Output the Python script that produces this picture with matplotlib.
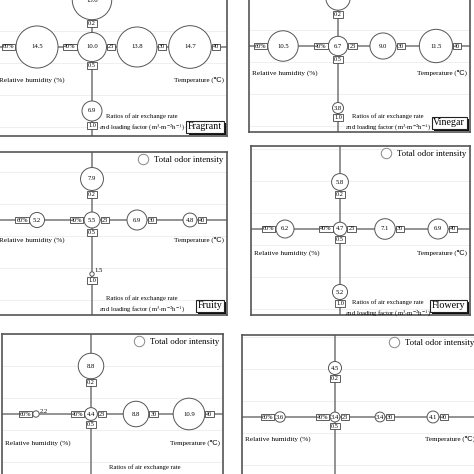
import matplotlib.pyplot as plt
from matplotlib.patches import Circle
from matplotlib.lines import Line2D
import matplotlib.patheffects as pe

plt.rcParams['font.family'] = ['Liberation Serif', 'DejaVu Serif', 'DejaVu Sans']
plt.rcParams['mathtext.fontset'] = 'stix'

# total odor intensity per odor type
odor_names = ['Fragrant', 'Vinegar', 'Fruity', 'Flowery', '', '']
center_vals = [10.0, 6.7, 5.5, 4.7, 4.4, 3.4]      # 40%, 23 C, ratio 0.5
rh60_vals = [14.5, 10.5, 5.2, 6.2, 2.2, 3.6]
t30_vals = [13.8, 9.0, 6.9, 7.1, 8.8, 3.4]
t40_vals = [14.7, 11.5, 4.8, 6.9, 10.9, 4.1]
ratio02_vals = [13.6, 8.4, 7.9, 5.8, 8.8, 4.5]     # first two are cut off, estimated
ratio10_vals = [6.9, 3.8, 1.5, 5.2, None, None]

rh_labels = ['60%', '40%']
temp_labels = ['23', '30', '40']
ratio_labels = ['0.2', '0.5', '1.0']

W = H = 474
K = 1.45  # circle radius in px per unit of intensity
# panel geometry in pixels: frame (left, top, right, bottom), cross point
panels = [
    dict(frame=(-4, -60, 227, 136), cross=(92, 47), up=47, down=64, lab=33, ratio=(50, 70), legend=False),
    dict(frame=(249, -60, 470, 132), cross=(338, 46), up=48, down=62, lab=27, ratio=(50, 71), legend=False),
    dict(frame=(-4, 152, 227, 315), cross=(92, 220), up=41, down=54, lab=20, ratio=(50, 79), legend=True),
    dict(frame=(251, 146, 470, 315), cross=(340, 229), up=47, down=63, lab=24, ratio=(48, 74), legend=True),
    dict(frame=(2, 334, 223, 540), cross=(91, 414), up=48, down=63, lab=29, ratio=(54, 54), legend=True),
    dict(frame=(242, 335, 478, 540), cross=(335, 417), up=49, down=66, lab=22, ratio=(54, 64), legend=True),
]
arm_x = {'rh60': -55, 't30': 45, 't40': 98}

edge = '#555555'
fig = plt.figure(figsize=(W / 100, H / 100), dpi=100)


def circle(ax, x, y, v):
    rad = K * v
    ax.add_patch(Circle((x, y), rad, fc='white', ec=edge, lw=0.7, zorder=3))
    if v >= 3:
        ax.text(x, y, f'{v:.1f}', ha='center', va='center', fontsize=4.8, zorder=4)
    else:
        ax.text(x + rad + 0.5, y + 0.5, f'{v:.1f}', ha='left', va='bottom', fontsize=4.8, zorder=4)
    return rad


def box(ax, x, y, s, ha, va):
    ax.text(x, y, s, ha=ha, va=va, fontsize=4.5, zorder=5,
            bbox=dict(boxstyle='square,pad=0.15', fc='white', ec='#444444', lw=0.6))


for i, p in enumerate(panels):
    l, t, r, b = p['frame']
    cx, cy = p['cross']
    ax = fig.add_axes([l / W, 1 - b / H, (r - l) / W, (b - t) / H])
    ax.set_xticks([])
    ax.set_yticks([-112, -80, -48, -16, 16, 48, 80, 112])
    ax.set_xlim(l - cx, r - cx)
    ax.set_ylim(cy - b, cy - t)
    ax.tick_params(length=0, labelleft=False)
    ax.grid(axis='y', color='#ececec', lw=0.6)
    ax.set_axisbelow(True)
    for s in ax.spines.values():
        s.set_color(edge)
        s.set_linewidth(1.2)

    ax.axhline(0, color='#808080', lw=1.2, zorder=1)
    ax.axvline(0, color='#808080', lw=1.2, zorder=1)

    g = 1.6
    rc = circle(ax, 0, 0, center_vals[i])
    box(ax, -rc - g, 0, rh_labels[1], 'right', 'center')
    box(ax, rc + g, 0, temp_labels[0], 'left', 'center')
    box(ax, 0, -rc - g, ratio_labels[1], 'center', 'top')

    rr = circle(ax, arm_x['rh60'], 0, rh60_vals[i])
    box(ax, arm_x['rh60'] - rr - g, 0, rh_labels[0], 'right', 'center')
    r30 = circle(ax, arm_x['t30'], 0, t30_vals[i])
    box(ax, arm_x['t30'] + r30 + g, 0, temp_labels[1], 'left', 'center')
    r40 = circle(ax, arm_x['t40'], 0, t40_vals[i])
    box(ax, arm_x['t40'] + r40 + g, 0, temp_labels[2], 'left', 'center')

    rt = circle(ax, 0, p['up'], ratio02_vals[i])
    box(ax, 0, p['up'] - rt - g, ratio_labels[0], 'center', 'top')
    if ratio10_vals[i] is not None:
        rb = circle(ax, 0, -p['down'], ratio10_vals[i])
        box(ax, 0, -p['down'] - rb - g, ratio_labels[2], 'center', 'top')

    ax.text(l - cx + 3, -p['lab'], 'Relative humidity (%)', ha='left', va='center', fontsize=5.2)
    ax.text(r - cx - 3, -p['lab'], 'Temperature (\u2103)', ha='right', va='center', fontsize=5.1)
    rx, ry = p['ratio']
    ax.text(rx, -ry + 4, 'Ratios of air exchange rate\nand loading factor (m$^3$$\\cdot$m$^{-2}$h$^{-1}$)',
            ha='center', va='top', fontsize=4.8, linespacing=1.5)

    if odor_names[i]:
        nt = ax.text(r - cx - 5, cy - b + 5, odor_names[i], ha='right', va='bottom', fontsize=7.2, zorder=6,
                     bbox=dict(boxstyle='square,pad=0.15', fc='white', ec='#222222', lw=0.8))
        nt.get_bbox_patch().set_path_effects([
            pe.SimplePatchShadow(offset=(1.6, -1.6), shadow_rgbFace='#111111', alpha=1), pe.Normal()])

    if p['legend']:
        h = Line2D([], [], marker='o', ls='none', mfc='white', mec='#888888', ms=7.5, mew=0.7)
        ax.legend([h], ['Total odor intensity'], loc='upper right', frameon=False, fontsize=6.3,
                  handletextpad=0.3, borderaxespad=0.2, borderpad=0.2)

fig.savefig('out.png', dpi=100, facecolor='white')
